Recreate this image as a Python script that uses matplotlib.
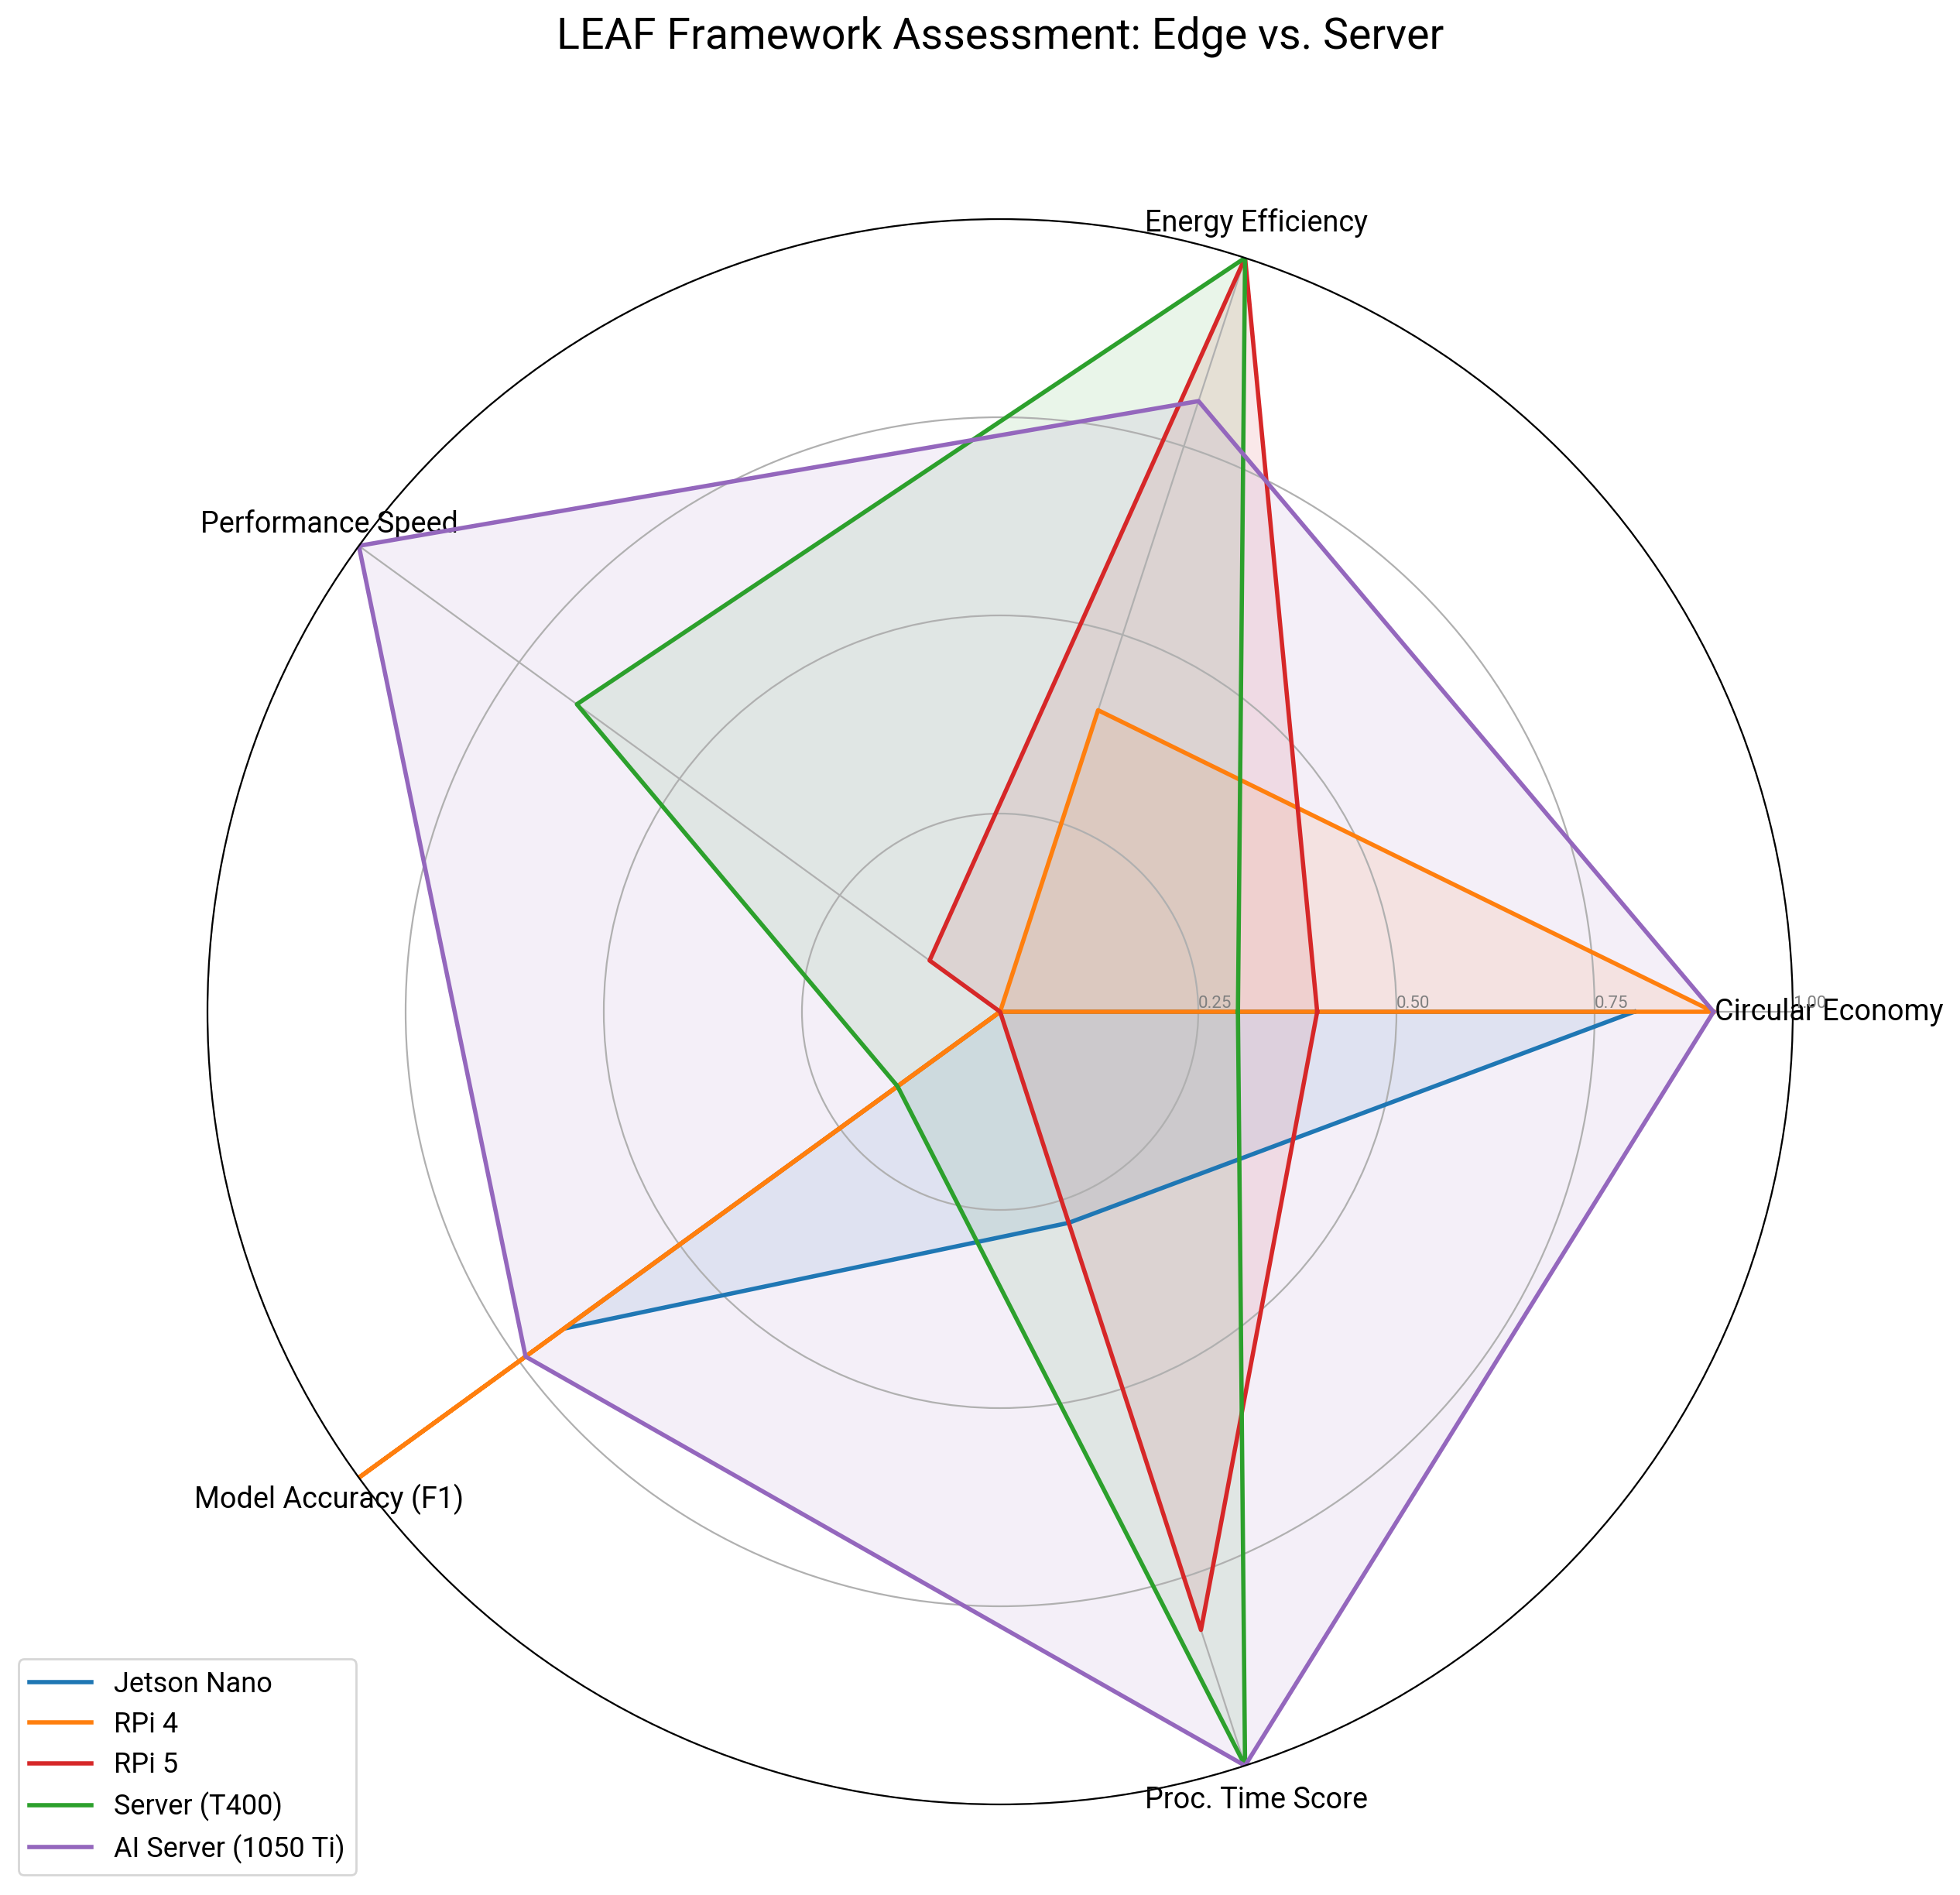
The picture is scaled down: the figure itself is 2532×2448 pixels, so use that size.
import numpy as np
import matplotlib
matplotlib.use("Agg")
import matplotlib.pyplot as plt

plt.rcParams['font.family'] = ['Roboto', 'DejaVu Sans']

# Data (normalised scores 0..1)
categories = ['Circular Economy', 'Energy Efficiency', 'Performance Speed',
              'Model Accuracy (F1)', 'Proc. Time Score']
devices = ['Jetson Nano', 'RPi 4', 'RPi 5', 'Server (T400)', 'AI Server (1050 Ti)']
colors = ['tab:blue', 'tab:orange', 'tab:red', 'tab:green', 'tab:purple']

jetson_nano = [0.80, 0.00, 0.00, 0.68, 0.28]
rpi4 = [0.90, 0.40, 0.00, 1.00, 0.00]
rpi5 = [0.40, 1.00, 0.11, 0.00, 0.82]
server_t400 = [0.30, 1.00, 0.66, 0.16, 1.00]
ai_server = [0.90, 0.81, 1.00, 0.74, 1.00]

r_ticks = [0.25, 0.50, 0.75, 1.00]
r_tick_labels = ['0.25', '0.50', '0.75', '1.00']

series = [jetson_nano, rpi4, rpi5, server_t400, ai_server]

# Angles for each axis, closed loop
angles = np.linspace(0, 2 * np.pi, len(categories), endpoint=False).tolist()
angles_closed = angles + angles[:1]

W, H, DPI = 2532, 2448, 200
fig = plt.figure(figsize=(W / DPI, H / DPI), dpi=DPI)
cx, cy, rad = 1292, 2448 - 1307, 1024
ax = fig.add_axes([(cx - rad) / W, (cy - rad) / H, 2 * rad / W, 2 * rad / H], polar=True)

for name, vals, col in zip(devices, series, colors):
    v = list(vals) + vals[:1]
    ax.plot(angles_closed, v, linewidth=2, color=col, label=name)
    ax.fill(angles_closed, v, color=col, alpha=0.1)

ax.set_ylim(0, 1)
ax.set_xticks(angles)
ax.set_xticklabels(categories, fontsize=13.6)
ax.tick_params(axis='x', pad=6.5)

ax.set_rlabel_position(0)
ax.set_yticks(r_ticks)
ax.set_yticklabels(r_tick_labels, fontsize=8, color='grey')

fig.text(cx / W, 1 - 63 / H, 'LEAF Framework Assessment: Edge vs. Server',
         ha='center', va='baseline', fontsize=20)

fig.legend(loc='lower left', bbox_to_anchor=(24 / W, (H - 2422) / H),
           bbox_transform=fig.transFigure, borderaxespad=0, fontsize=13,
           handlelength=2.2, labelspacing=0.45)

fig.savefig('out.png', dpi=DPI)
